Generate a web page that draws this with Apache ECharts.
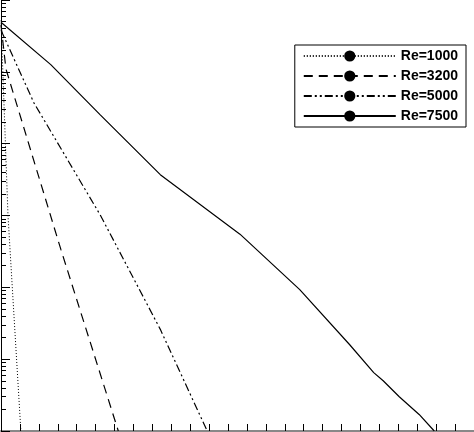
<!DOCTYPE html><html><head><meta charset="utf-8">
<script src="https://cdn.jsdelivr.net/npm/echarts@6/dist/echarts.min.js"></script>
<style>html,body{margin:0;background:#fff}#c{width:474px;height:432px}</style></head><body><div id="c"></div><script>
const names=['Re=1000','Re=3200','Re=5000','Re=7500'];
const re1000=[[0,0.52],[0.37,1e-3],[1.05,1e-6]];
const re3200=[[0,0.45],[0.26,0.11],[3.16,3.4e-4],[6.2,1e-6]];
const re5000=[[0,0.38],[1.74,0.037],[5.26,1.0e-3],[8.42,2.6e-5],[10.9,1e-6]];
const re7500=[[0,0.49],[2.63,0.126],[5.26,0.025],[8.42,3.7e-3],[12.63,5.5e-4],[15.79,9.3e-5],[18.42,1.6e-5],[19.7,6.5e-6],[20.2,5.0e-6],[21.05,3.0e-6],[22.1,1.7e-6],[22.9,1e-6]];
const dashes=[[1,2],[9,6],[8,3,2,3,2,3],'solid'];
const widths=[1,1.2,1.2,1.2];
const ch=echarts.init(document.getElementById('c'));
ch.setOption({animation:false,
grid:{left:1,right:0,top:0,bottom:1},
legend:{right:8,top:45,orient:'vertical',data:names,itemWidth:92,itemHeight:14,itemGap:6,
 borderColor:'#000',borderWidth:1,padding:[4,8,4,8],borderRadius:0,
 textStyle:{fontFamily:'Liberation Sans',fontWeight:'bold',fontSize:14,color:'#000'}},
xAxis:{type:'value',min:0,max:25,interval:1,axisLabel:{show:false},splitLine:{show:false},
 axisLine:{lineStyle:{color:'#888',width:2}},axisTick:{inside:true,length:7,lineStyle:{color:'#000'}}},
yAxis:{type:'log',min:1e-6,max:1,logBase:10,axisLabel:{show:false},splitLine:{show:false},
 axisLine:{lineStyle:{color:'#000'}},axisTick:{inside:true,length:9,lineStyle:{color:'#000'}},
 minorTick:{show:true,splitNumber:9,length:5,lineStyle:{color:'#000'}}},
series:[re1000,re3200,re5000,re7500].map((d,i)=>({name:names[i],type:'line',data:d,symbol:'none',smooth:false,
 lineStyle:{color:'#000',width:widths[i],type:dashes[i]},itemStyle:{color:'#000'}}))
});
</script></body></html>
